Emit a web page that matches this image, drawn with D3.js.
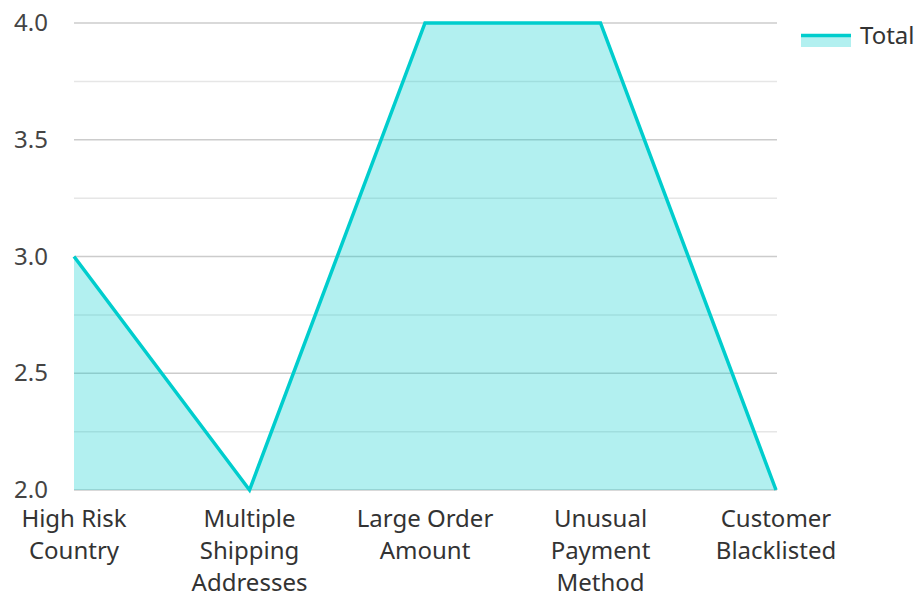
<!DOCTYPE html>
<html>
<head>
<meta charset="utf-8">
<script src="https://cdn.jsdelivr.net/npm/d3@7"></script>
<style>
  body { margin: 0; background: #fff; }
  text { font-family: "Noto Sans", "Open Sans", sans-serif; }
</style>
</head>
<body>
<svg width="917" height="594"></svg>
<script>
let categories = [
    ["High Risk", "Country"],
    ["Multiple", "Shipping", "Addresses"],
    ["Large Order", "Amount"],
    ["Unusual", "Payment", "Method"],
    ["Customer", "Blacklisted"]
]
let totals = [3, 2, 4, 4, 2]
let yTicks = [2.0, 2.5, 3.0, 3.5, 4.0]
let minorTicks = [2.25, 2.75, 3.25, 3.75]

let width = 917,
    height = 594,
    lineColor = '#00cdcd'

let svg = d3.select('svg')

let x = d3.scalePoint()
    .domain(d3.range(categories.length))
    .range([74, 776])

let y = d3.scaleLinear()
    .domain([2, 4])
    .range([490, 23])

// gridlines
svg.append('g').selectAll('line')
    .data(minorTicks)
    .enter().append('line')
    .attr('x1', 74).attr('x2', 777)
    .attr('y1', d => y(d)).attr('y2', d => y(d))
    .attr('stroke', '#e6e6e6')
    .attr('stroke-width', 1.5)

svg.append('g').selectAll('line')
    .data(yTicks)
    .enter().append('line')
    .attr('x1', 74).attr('x2', 777)
    .attr('y1', d => y(d)).attr('y2', d => y(d))
    .attr('stroke', '#cccccc')
    .attr('stroke-width', 1.5)

// y labels
svg.append('g').selectAll('text')
    .data(yTicks)
    .enter().append('text')
    .attr('x', 48)
    .attr('y', d => y(d) + 8)
    .attr('text-anchor', 'end')
    .attr('font-size', 24)
    .attr('fill', '#444')
    .text(d => d.toFixed(1))

let data = totals.map((v, i) => ({ i: i, v: v }))

let area = d3.area()
    .x(d => x(d.i))
    .y0(y(2))
    .y1(d => y(d.v))

let line = d3.line()
    .x(d => x(d.i))
    .y(d => y(d.v))

svg.append('path')
    .datum(data)
    .attr('d', area)
    .attr('fill', lineColor)
    .attr('fill-opacity', 0.3)

svg.append('path')
    .datum(data)
    .attr('d', line)
    .attr('fill', 'none')
    .attr('stroke', lineColor)
    .attr('stroke-width', 3.5)
    .attr('stroke-linejoin', 'miter')

// category labels
let catLabels = svg.append('g').selectAll('text')
    .data(categories)
    .enter().append('text')
    .attr('text-anchor', 'middle')
    .attr('font-size', 24)
    .attr('fill', '#333')

catLabels.selectAll('tspan')
    .data((d, i) => d.map(t => ({ t: t, i: i })))
    .enter().append('tspan')
    .attr('x', d => x(d.i))
    .attr('y', (d, j) => 527 + j * 32)
    .text(d => d.t)

// legend
let legend = svg.append('g')
legend.append('rect')
    .attr('x', 801).attr('y', 34)
    .attr('width', 50).attr('height', 13)
    .attr('fill', lineColor)
    .attr('fill-opacity', 0.3)
legend.append('line')
    .attr('x1', 801).attr('x2', 851)
    .attr('y1', 35.5).attr('y2', 35.5)
    .attr('stroke', lineColor)
    .attr('stroke-width', 3.5)
legend.append('text')
    .attr('x', 860).attr('y', 44)
    .attr('font-size', 24)
    .attr('fill', '#333')
    .text('Total')
</script>
</body>
</html>
